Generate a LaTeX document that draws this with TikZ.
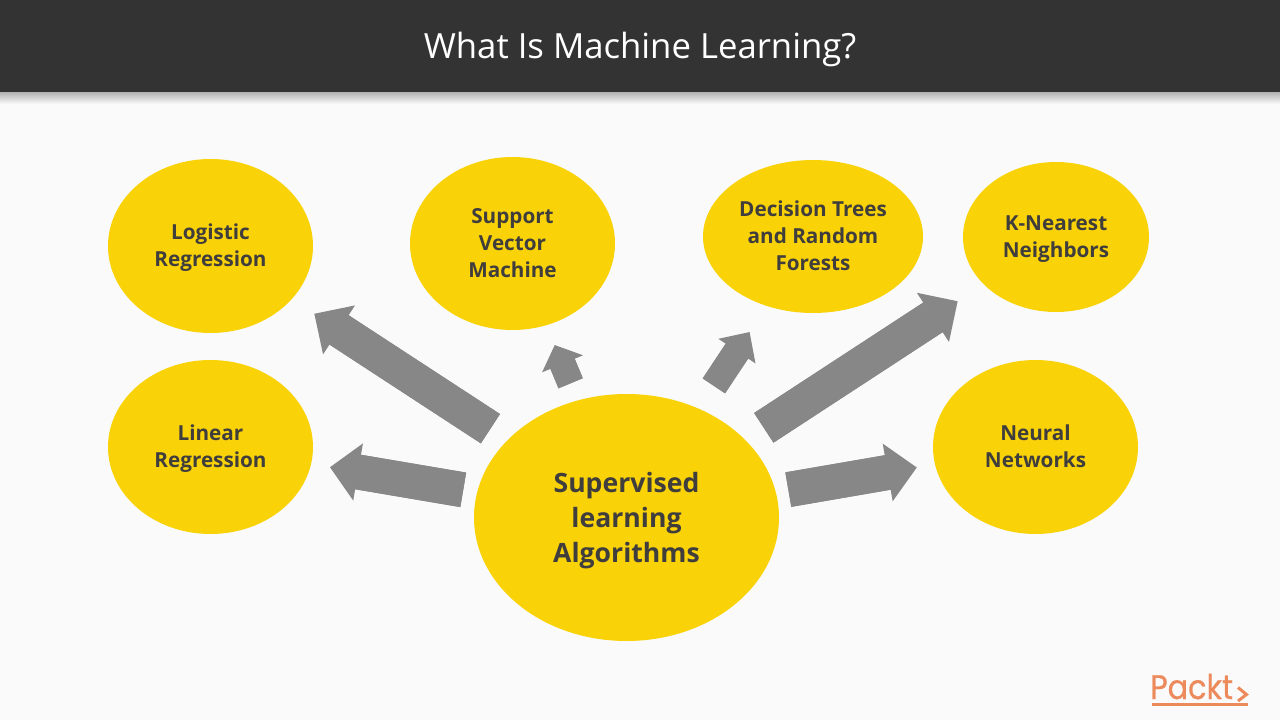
\documentclass[tikz,border=0pt]{standalone}
\usepackage{fontspec}
\setmainfont{Open Sans}
\newfontfamily\logofont[FakeBold=0.7]{Poppins}
\usetikzlibrary{shapes.geometric,arrows.meta}
\definecolor{bgc}{HTML}{FAFAFA}
\definecolor{barc}{HTML}{333333}
\definecolor{yel}{HTML}{F9D308}
\definecolor{arr}{HTML}{878787}
\definecolor{ink}{HTML}{403D3D}
\definecolor{logoc}{HTML}{EC8A5C}
\newcommand{\topsp}[1]{\rule{0pt}{#1pt}}
\newcommand{\botsp}[1]{\rule[-#1pt]{0pt}{0pt}}
\tikzset{
  oval/.style={ellipse,fill=yel,draw=none,inner sep=0pt,align=center,text=ink,font=\fontsize{20.7}{27}\selectfont\bfseries},
  bigoval/.style={oval,font=\fontsize{26.6}{35}\selectfont\bfseries},
  blockarrow/.style n args={5}{draw=arr,line width=#1,
     -{Triangle[length=#2,width=#3,line width=0pt,fill=arr]},
     shorten <=#4,shorten >=#5,
     preaction={draw=arr,line width=#1,-,shorten <=#4,shorten >=#5+#2-3pt}},
}
\begin{document}
\begin{tikzpicture}[x=1pt,y=-1pt]
\useasboundingbox (0,0) rectangle (1280,720);
\fill[bgc] (0,0) rectangle (1280,720);
\shade[top color=black!30,bottom color=bgc] (0,92) rectangle (1280,104);
\fill[barc] (0,0) rectangle (1280,92);
\node[text=white,font=\fontsize{34.7}{40}\selectfont,inner sep=0pt] (title) at (640,49.5) {What Is Machine Learning?};
\node[bigoval,minimum width=305pt,minimum height=247pt] (sup) at (626.5,517.5) {\topsp{26}Supervised\\learning\\Algorithms};
\node[oval,minimum width=205pt,minimum height=174pt] (logit) at (210.5,246) {\topsp{18}Logistic\\Regression};
\node[oval,minimum width=205pt,minimum height=174pt] (linear) at (210.5,447) {\topsp{18}Linear\\Regression};
\node[oval,minimum width=205pt,minimum height=173pt] (svm) at (512.5,243.5) {Support\\Vector\\Machine};
\node[oval,minimum width=220pt,minimum height=153pt] (dt) at (813,236.5) {Decision Trees\\and Random\\Forests\botsp{1.5}};
\node[oval,minimum width=186pt,minimum height=150pt] (knn) at (1056,237) {\topsp{18}K-Nearest\\Neighbors};
\node[oval,minimum width=205pt,minimum height=174pt] (nn) at (1035.5,447) {Neural\\Networks\botsp{2}};
\draw[blockarrow={35pt}{29.5pt}{58.5pt}{162.5pt}{124pt}] (sup.center) -- (logit.center);
\draw[blockarrow={35pt}{28.5pt}{58pt}{165.6pt}{121.2pt}] (sup.center) -- (linear.center);
\draw[blockarrow={26.3pt}{20.3pt}{44.3pt}{145.4pt}{110pt}] (sup.center) -- (svm.center);
\draw[blockarrow={26.9pt}{22.9pt}{44.6pt}{158pt}{114.7pt}] (sup.center) -- (dt.center);
\draw[blockarrow={35.4pt}{29.5pt}{58.7pt}{164pt}{117.5pt}] (sup.center) -- (knn.center);
\draw[blockarrow={35pt}{29.5pt}{58.5pt}{164.2pt}{120.5pt}] (sup.center) -- (nn.center);
\node[anchor=base west,inner sep=0pt,text=logoc,font=\fontsize{34}{34}\logofont,xscale=0.89] (logo) at (1150,699) {Packt};
\coordinate (chevtop) at (1238,687.5);
\coordinate (chevtip) at (1246.5,694.5);
\coordinate (chevbot) at (1238,701);
\draw[logoc,line width=3pt] (chevtop) -- (chevtip) -- (chevbot);
\fill[logoc] (1152,703) rectangle (1248,705.5);
\end{tikzpicture}
\end{document}
